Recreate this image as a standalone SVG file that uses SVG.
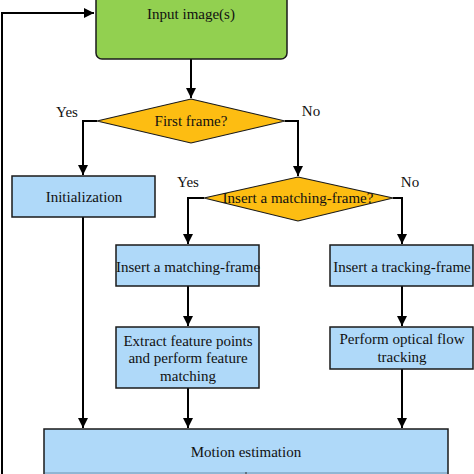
<svg xmlns="http://www.w3.org/2000/svg" width="474" height="474" viewBox="0 0 474 474">
<defs>
<style>
.box{fill:#afd9f9;stroke:#1a1a1a;stroke-width:1.5}
.dia{fill:#fdbd12;stroke:#1a1a1a;stroke-width:1.2}
.t{font-family:"Liberation Serif","Times New Roman",serif;font-size:15px;fill:#111;text-anchor:middle;dominant-baseline:central}
.lbl{font-family:"Liberation Serif","Times New Roman",serif;font-size:15px;fill:#111;text-anchor:middle;dominant-baseline:central}
.c{fill:none;stroke:#000;stroke-width:2}
</style>
<marker id="ah" viewBox="0 0 10 10" refX="10" refY="5" markerWidth="5" markerHeight="5" orient="auto" markerUnits="strokeWidth">
<path d="M0,0 L10,5 L0,10 z" fill="#000"/>
</marker>
</defs>
<rect width="474" height="474" fill="#fff"/>
<g id="connectors">
<path class="c" d="M2,474 V13 H94" marker-end="url(#ah)"/>
<path class="c" d="M191,59 V98" marker-end="url(#ah)"/>
<path class="c" d="M97,121 H83 V175" marker-end="url(#ah)"/>
<path class="c" d="M285,121 H298 V176" marker-end="url(#ah)"/>
<path class="c" d="M204,198 H188 V244" marker-end="url(#ah)"/>
<path class="c" d="M393,198 H402 V244" marker-end="url(#ah)"/>
<path class="c" d="M188,286 V326" marker-end="url(#ah)"/>
<path class="c" d="M402,286 V326" marker-end="url(#ah)"/>
<path class="c" d="M83,217 V428" marker-end="url(#ah)"/>
<path class="c" d="M188,388 V428" marker-end="url(#ah)"/>
<path class="c" d="M402,369 V428" marker-end="url(#ah)"/>
</g>
<g id="input">
<rect x="96" y="-12" width="191" height="71" rx="6" fill="#92d050" stroke="#1a1a1a" stroke-width="1.5"/>
<text class="t" x="191" y="14">Input image(s)</text>
</g>
<g id="first-frame">
<polygon class="dia" points="191,99 285,121 191,143 97,121"/>
<text class="t" x="191" y="121">First frame?</text>
<text class="lbl" x="67" y="112">Yes</text>
<text class="lbl" x="311" y="111">No</text>
</g>
<g id="initialization">
<rect class="box" x="12" y="176" width="143" height="41"/>
<text class="t" x="84" y="197">Initialization</text>
</g>
<g id="matching-decision">
<polygon class="dia" points="298,177 393,198 298,221 204,198"/>
<text class="t" x="298" y="198">Insert a matching-frame?</text>
<text class="lbl" x="188" y="182">Yes</text>
<text class="lbl" x="410" y="182">No</text>
</g>
<g id="insert-matching">
<rect class="box" x="116" y="245" width="143" height="41"/>
<text class="t" x="188" y="267">Insert a matching-frame</text>
</g>
<g id="insert-tracking">
<rect class="box" x="330" y="245" width="143" height="41"/>
<text class="t" x="402" y="267">Insert a tracking-frame</text>
</g>
<g id="extract">
<rect class="box" x="116" y="327" width="143" height="61"/>
<text class="t" x="188" y="341">Extract feature points</text>
<text class="t" x="188" y="358">and perform feature</text>
<text class="t" x="188" y="376">matching</text>
</g>
<g id="optical-flow">
<rect class="box" x="330" y="327" width="143" height="42"/>
<text class="t" x="402" y="339">Perform optical flow</text>
<text class="t" x="402" y="357">tracking</text>
</g>
<g id="motion">
<rect class="box" x="44" y="429" width="404" height="60"/>
<text class="t" x="246" y="452">Motion estimation</text>
<rect x="45" y="472" width="402" height="2" fill="#8fb6d4"/>
<line x1="246" y1="472" x2="246" y2="474" stroke="#333" stroke-width="1"/>
</g>
</svg>
